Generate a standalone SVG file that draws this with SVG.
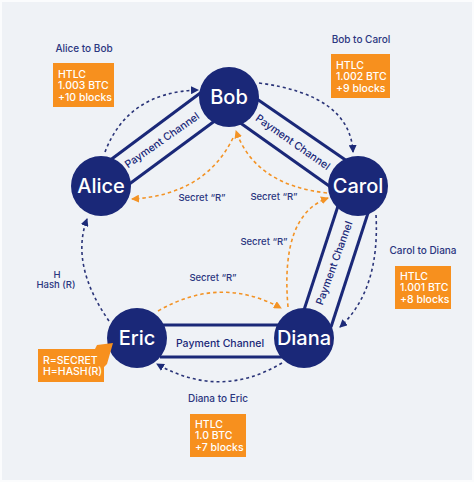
<svg xmlns="http://www.w3.org/2000/svg" width="474" height="482" viewBox="0 0 474 482">
<defs>
<marker id="ah-navy" viewBox="0 0 8 8" refX="7" refY="4" markerWidth="8" markerHeight="8" markerUnits="userSpaceOnUse" orient="auto"><path d="M0,0 L8,4 L0,8 z" fill="#1c2a78"/></marker>
<marker id="ah-orange" viewBox="0 0 8 8" refX="7" refY="4" markerWidth="8" markerHeight="8" markerUnits="userSpaceOnUse" orient="auto"><path d="M0,0 L8,4 L0,8 z" fill="#f39325"/></marker>
<style>
.node circle{fill:#1a2878;}
.node text{font-family:Inter,"Noto Sans",sans-serif;font-size:20px;font-weight:500;fill:#ffffff;text-anchor:middle;}
.chan{stroke:#1a2878;stroke-width:3;fill:none;}
.htlc{stroke:#2a3478;stroke-width:1.6;fill:none;stroke-dasharray:3 3;marker-end:url(#ah-navy);}
.secret{stroke:#f39325;stroke-width:1.6;fill:none;stroke-dasharray:3.5 3;marker-end:url(#ah-orange);}
.lbl{font-family:Inter,"Noto Sans",sans-serif;font-size:10px;font-weight:500;fill:#2b3680;}
.sec{font-family:Inter,"Noto Sans",sans-serif;font-size:9.5px;font-weight:500;fill:#2b3680;text-anchor:middle;}
.pc{font-family:Inter,"Noto Sans",sans-serif;font-size:10.5px;font-weight:500;fill:#1a2878;text-anchor:middle;}
.box{fill:#f7901e;}
.bt{font-family:Inter,"Noto Sans",sans-serif;font-size:10.5px;font-weight:500;fill:#ffffff;}
</style>
</defs>
<rect x="0" y="0" width="474" height="482" fill="#fbfcfd"/>
<rect x="2" y="2" width="470" height="478" fill="#eff2f6"/>

<g id="connectors">
  <!-- payment channels -->
  <line class="chan" x1="109" y1="161" x2="203" y2="91"/>
  <line class="chan" x1="128" y1="185" x2="216" y2="120"/>
  <line class="chan" x1="254" y1="97" x2="347" y2="161"/>
  <line class="chan" x1="239" y1="122" x2="332" y2="188"/>
  <line class="chan" x1="338" y1="206" x2="303" y2="313"/>
  <line class="chan" x1="369" y1="210" x2="331" y2="327"/>
  <line class="chan" x1="160" y1="325" x2="285" y2="325"/>
  <line class="chan" x1="160" y1="357" x2="285" y2="357"/>
  <!-- HTLC arcs -->
  <path class="htlc" d="M105,152 Q128,92 198,90"/>
  <path class="htlc" d="M259,83 Q350,95 353,152"/>
  <path class="htlc" d="M376,215 Q380,290 340,327"/>
  <path class="htlc" d="M282,363 Q220,400 157,364"/>
  <path class="htlc" d="M109,321 Q70,265 87,219"/>
  <!-- Secret arcs -->
  <path class="secret" d="M158,311 Q220,275 281,308"/>
  <path class="secret" d="M288,307 Q280,215 328,198"/>
  <path class="secret" d="M327,193 Q255,185 236,131"/>
  <path class="secret" d="M233,138 Q205,195 132,199"/>
  <!-- channel labels -->
  <text class="pc" transform="translate(162,140) rotate(-35)" dy="3.8">Payment Channel</text>
  <text class="pc" transform="translate(293,142) rotate(35)" dy="3.8">Payment Channel</text>
  <text class="pc" transform="translate(334,263) rotate(-70)" dy="3.8">Payment Channel</text>
  <text class="pc" x="220" y="347">Payment Channel</text>
  <!-- secret labels -->
  <text class="sec" x="202" y="200.5">Secret “R”</text>
  <text class="sec" x="274" y="199.5">Secret “R”</text>
  <text class="sec" x="264" y="244.5">Secret “R”</text>
  <text class="sec" x="213" y="280.5">Secret “R”</text>
</g>

<g id="alice" class="node"><circle cx="101" cy="186" r="30"/><text x="101" y="193">Alice</text></g>
<g id="bob" class="node"><circle cx="229" cy="97" r="30"/><text x="229" y="104">Bob</text></g>
<g id="carol" class="node"><circle cx="358" cy="186" r="30"/><text x="358" y="193">Carol</text></g>
<g id="diana" class="node"><circle cx="304" cy="338" r="30"/><text x="304" y="345">Diana</text></g>
<g id="eric" class="node"><circle cx="137" cy="338" r="30"/><text x="137" y="345">Eric</text></g>

<g id="htlc-alice-bob">
  <text class="lbl" x="84" y="51.5" text-anchor="middle">Alice to Bob</text>
  <rect class="box" x="53" y="63" width="61" height="44"/>
  <text class="bt" x="58" y="77.5">HTLC</text>
  <text class="bt" x="58" y="89">1.003 BTC</text>
  <text class="bt" x="58" y="100.5">+10 blocks</text>
</g>
<g id="htlc-bob-carol">
  <text class="lbl" x="361" y="42.5" text-anchor="middle">Bob to Carol</text>
  <rect class="box" x="331" y="54" width="59" height="44"/>
  <text class="bt" x="336" y="68.5">HTLC</text>
  <text class="bt" x="336" y="80">1.002 BTC</text>
  <text class="bt" x="336" y="91.5">+9 blocks</text>
</g>
<g id="htlc-carol-diana">
  <text class="lbl" x="423" y="253.5" text-anchor="middle">Carol to Diana</text>
  <rect class="box" x="395" y="266" width="56" height="43"/>
  <text class="bt" x="400" y="279.5">HTLC</text>
  <text class="bt" x="400" y="291">1.001 BTC</text>
  <text class="bt" x="400" y="302.5">+8 blocks</text>
</g>
<g id="htlc-diana-eric">
  <text class="lbl" x="218" y="401.5" text-anchor="middle">Diana to Eric</text>
  <rect class="box" x="190" y="414" width="56" height="43"/>
  <text class="bt" x="195" y="427.5">HTLC</text>
  <text class="bt" x="195" y="439">1.0 BTC</text>
  <text class="bt" x="195" y="450.5">+7 blocks</text>
</g>
<g id="hash-label">
  <text class="sec" x="57" y="277.5">H</text>
  <text class="sec" x="56" y="287.5">Hash (R)</text>
</g>
<g id="secret-box">
  <path class="box" d="M38,349 H95 L97,345 L113,343 L107,364 L104,367 V382 H38 Z"/>
  <text class="bt" x="43" y="363.5">R=SECRET</text>
  <text class="bt" x="43" y="375">H=HASH(R)</text>
</g>
</svg>
